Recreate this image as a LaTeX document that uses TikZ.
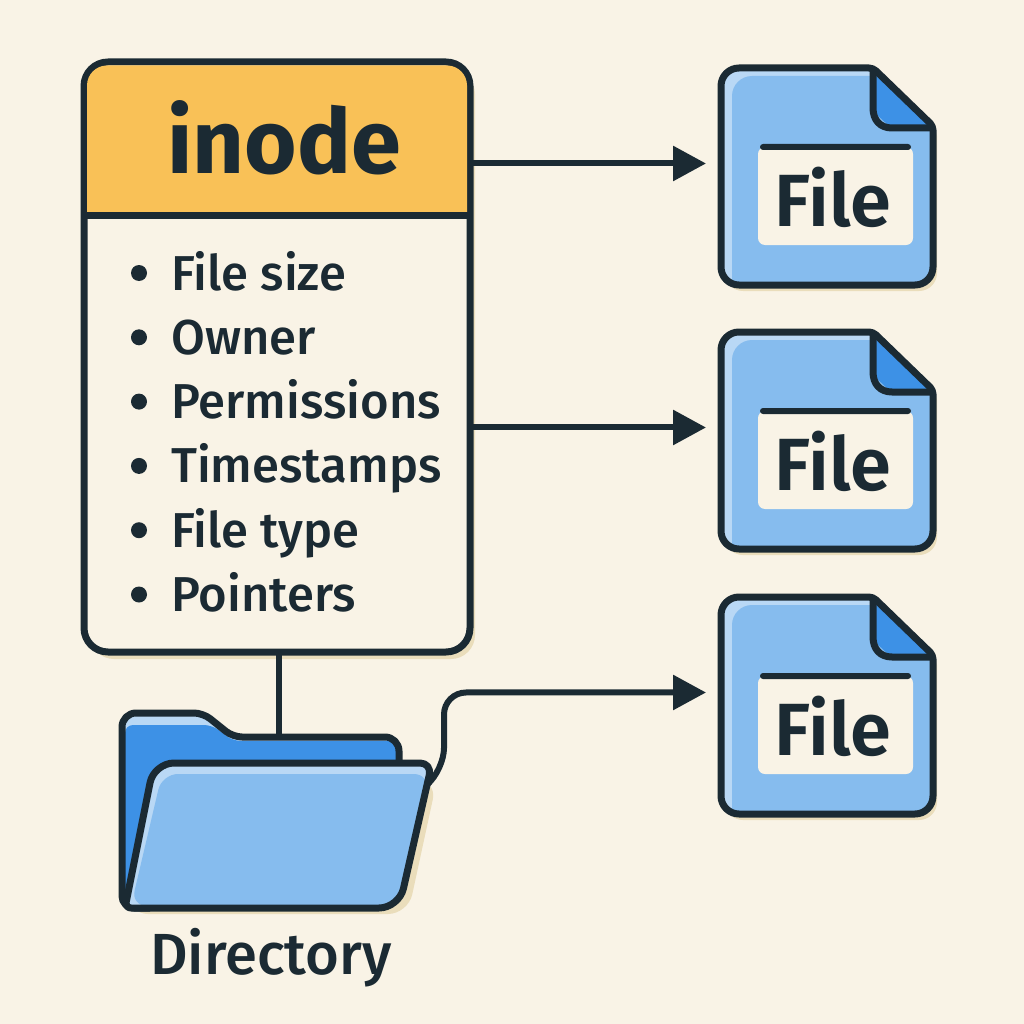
\documentclass[tikz,border=0pt]{standalone}
\usepackage{fontspec}
\usetikzlibrary{arrows.meta}
\setmainfont{Fira Sans Medium}[BoldFont={Fira Sans Bold}]
\newfontfamily\semifont{Fira Sans SemiBold}
\definecolor{paper}{HTML}{F9F3E6}
\definecolor{ink}{HTML}{1B2A33}
\definecolor{sand}{HTML}{EADDBB}
\definecolor{gold}{HTML}{F9C157}
\definecolor{paleblue}{HTML}{86BCEE}
\definecolor{glint}{HTML}{B9D8F5}
\definecolor{deepblue}{HTML}{3D91E6}
\newcommand{\filepath}{(800,68) [rounded corners=4] -- (873,68) -- (933,126) [rounded corners=18] -- (933,285) -- (721,285) -- (721,68) -- cycle}
\begin{document}
\begin{tikzpicture}[x=1pt, y=-1pt, line join=round,
    outline/.style = {draw=ink, line width=7pt},
    conn/.style = {draw=ink, line width=6pt, shorten >=15pt, -{Triangle[length=33pt,width=34pt]}},
    box/.style = {inner sep=0pt, outer sep=0pt},
    bullet/.style = {circle, fill=ink, minimum size=16pt, inner sep=0pt},
    listitem/.style = {anchor=base west, inner sep=0pt, text=ink, font=\fontsize{49}{60}\selectfont}]
    \useasboundingbox (0,0) rectangle (1024,1024);
    \fill[paper] (0,0) rectangle (1024,1024);

    \fill[sand, rounded corners=24] (90,70) rectangle (475,659);
    \node[box, outline, fill=paper, rounded corners=24, minimum width=386pt, minimum height=590pt] (inode) at (277,357) {};
    \fill[gold] (87,216) [rounded corners=20] -- (87,65.5) -- (467,65.5) [sharp corners] -- (467,216) -- cycle;
    \draw[outline] (inode.west |- 0,216) -- (inode.east |- 0,216);
    \node[box, text=ink, font=\fontsize{90}{96}\bfseries\selectfont] (title) at (284,138) {inode};

    \foreach \n/\label [count=\k from 0] in {a/File size, b/Owner, c/Permissions, d/Timestamps, e/File type, f/Pointers} {
        \node[bullet] (dot\n) at (139,{273+64.3*\k}) {};
        \node[listitem] (item\n) at (171,{290+64.3*\k}) {\label};
    }

    \foreach \i/\off in {1/0, 2/264, 3/529} {
        \begin{scope}[shift={(0,\off)}]
            \fill[sand, shift={(4,6)}] \filepath;
            \fill[glint] \filepath;
            \begin{scope}
                \clip \filepath;
                \fill[paleblue, rounded corners=20] (732,76) rectangle (960,300);
            \end{scope}
            \fill[deepblue] (873,68) -- (933,126) -- (890,127) -- (872,110) -- cycle;
            \draw[outline] (873,68) -- (873,108) .. controls (873,120) and (880,128) .. (892,128) -- (933,128);
            \draw[outline] \filepath;
            \fill[paper, rounded corners=7] (758,147) rectangle (913,245);
            \fill[ink, rounded corners=3] (760,144) rectangle (911,150);
            \node[box, text=ink, font=\fontsize{74}{80}\semifont\selectfont] (label\i) at (833,197) {File};
            \node[box, minimum width=212pt, minimum height=217pt] (file\i) at (827,176.5) {};
        \end{scope}
    }

    \fill[sand, rounded corners=20] (128,914) -- (408,914) -- (437,780) -- (400,780) -- (128,880) -- cycle;
    \fill[glint, rounded corners=8] (122,900) -- (122,713) -- (203,713) -- (233,737) -- (399,737) -- (399,780) -- cycle;
    \fill[deepblue, rounded corners=8] (125,900) -- (125,725) -- (212,725) -- (233,741) -- (396,741) -- (396,780) -- cycle;
    \draw[outline] (150,908) [rounded corners=12] -- (122,908) [rounded corners=14] -- (122,713) [rounded corners=9] -- (203,713) -- (233,737) [rounded corners=14] -- (399,737) -- (399,770);
    \fill[glint, rounded corners=14] (154,763) -- (432,763) -- (399,908) -- (125,908) -- cycle;
    \fill[paleblue, rounded corners=16] (162,774) -- (430,774) -- (397,906) -- (131,906) -- cycle;
    \draw[outline] (300,763) [rounded corners=12] -- (432,763) [rounded corners=20] -- (399,908) [rounded corners=6] -- (125,908) [rounded corners=20] -- (154,763) -- cycle;
    \node[box, minimum width=302pt, minimum height=171pt] (folder) at (279,822.5) {};
    \node[box, text=ink, font=\fontsize{58}{62}\selectfont] (dirlabel) at (271,958) {Directory};

    \draw[conn] (inode.east |- file1.173) -- (file1.173);
    \draw[conn] (inode.east |- file2.173) -- (file2.173);
    \draw[conn, rounded corners=22] (folder.15) -- ++(14,-12) |- (file3.173);
    \draw[draw=ink, line width=6pt] (inode.south -| folder.north) -- (folder.north);
\end{tikzpicture}
\end{document}
